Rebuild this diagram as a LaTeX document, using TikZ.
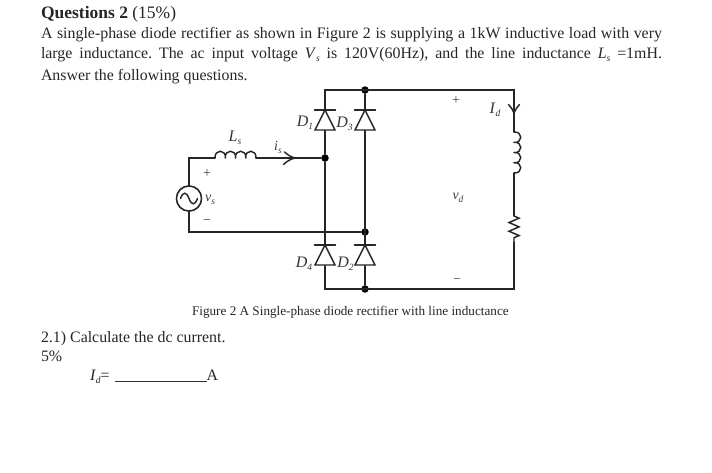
\documentclass[tikz,border=0pt]{standalone}
\usepackage{fontspec}
\setmainfont{Liberation Serif}
\usetikzlibrary{decorations.pathmorphing,arrows.meta}
\newcommand{\bodysize}{\fontsize{15.9}{17}\selectfont}
\newcommand{\sub}[2]{\textit{#1}\raisebox{-3pt}{\fontsize{9.5}{10}\selectfont\textit{#2}}}
\frenchspacing
\tikzset{
  x=1pt,y=-1pt,
  wire/.style={line width=1.45pt,draw=black!85,line cap=round},
  txt/.style={anchor=base west,inner sep=0pt,outer sep=0pt,text=black!85,font=\bodysize},
  lab/.style={anchor=center,inner sep=0pt,outer sep=0pt,text=black!80,font=\fontsize{16}{17}\selectfont},
  smalllab/.style={anchor=center,inner sep=0pt,outer sep=0pt,text=black!75,font=\fontsize{14}{15}\selectfont},
  dot/.style={circle,fill=black,draw=none,minimum size=7.5pt,inner sep=0pt},
  zigwire/.style={wire,decorate,decoration={zigzag,amplitude=5pt,segment length=8.7pt}},
  source/.style={circle,draw=black!85,line width=1.45pt,minimum size=25pt,inner sep=0pt},
  diodetri/.style={wire,line join=miter,fill=white}
}
\newcommand{\diode}[2]{% x, top (bar) y
  \draw[diodetri] (#1,#2) -- (#1-10,#2+20) -- (#1+10,#2+20) -- cycle;
  \draw[wire] (#1-10.5,#2) -- (#1+10.5,#2);
}
\begin{document}
\begin{tikzpicture}
\useasboundingbox (0,0) rectangle (712,472);
\fill[white] (0,0) rectangle (712,472);
% text
\node[txt] (title) at (41,18.5) {\fontsize{17.5}{19}\selectfont\textbf{Questions 2} (15\%)};
\node[txt] (l1) at (41,38) {\hbox to 621pt{A single-phase diode rectifier as shown in Figure 2 is supplying a 1kW inductive load with very}};
\node[txt] (l2) at (41,58) {\hbox to 621pt{large inductance. The ac input voltage \sub{V}{s} is 120V(60Hz), and the line inductance \sub{L}{s} =1mH.}};
\node[txt] (l3) at (41,80) {Answer the following questions.};
\node[txt,font=\fontsize{13.2}{15}\selectfont] (cap) at (192,315) {Figure 2 A Single-phase diode rectifier with line inductance};
\node[txt] (q) at (41,342) {2.1) Calculate the dc current.};
\node[txt] (pct) at (41,361) {5\%};
\node[txt] (ans) at (90,380) {\sub{I}{d}=};
\node[txt] (aa) at (206.5,380) {A};
\coordinate (ansA) at (115,381);
\coordinate (ansB) at (207,381);
\draw[line width=0.9pt,black!80] (ansA) -- (ansB);
% circuit coordinates
\coordinate (tl) at (325,90);
\coordinate (bl) at (325,289);
\coordinate (tr) at (514,90);
\coordinate (br) at (514,289);
\coordinate (sw) at (189,158);
\coordinate (sb) at (189,232);
\coordinate (lsa) at (215,158);
\coordinate (lsb) at (256,158);
\coordinate (lda) at (514,132);
\coordinate (ldb) at (514,173);
\coordinate (ra) at (514,216);
\coordinate (rb) at (514,242);
\node[dot] (jt) at (365,90) {};
\node[dot] (jm) at (325,158) {};
\node[dot] (jl) at (365,232) {};
\node[dot] (jb) at (365,289) {};
\node[source] (src) at (189,198.5) {};
\coordinate (arrowtip) at (295,158);
\coordinate (idtip) at (514,113);
% wires
\draw[wire] (jm) -- (tl) -- (tr) -- (lda);
\draw[wire] (jb) -- (jt);
\draw[wire] (jm) -- (bl) -- (br) -- (rb);
\draw[wire] (src) -- (sw) -- (lsa);
\draw[wire] (src) -- (sb) -- (jl);
\draw[wire] (lsb) -- (jm);
\draw[wire] (ldb) -- (ra);
% inductors, four bumps each
\draw[wire] (lsa)
  .. controls +(-0.5,-9) and +(0.5,-9) .. +(10.5,0)
  (225.2,158) .. controls +(-0.5,-9) and +(0.5,-9) .. +(10.5,0)
  (235.4,158) .. controls +(-0.5,-9) and +(0.5,-9) .. +(10.5,0)
  (245.6,158) .. controls +(-0.5,-9) and +(0.5,-9) .. (lsb);
\draw[wire] (lda)
  .. controls +(9,-0.5) and +(9,0.5) .. +(0,10.5)
  (514,142.2) .. controls +(9,-0.5) and +(9,0.5) .. +(0,10.5)
  (514,152.4) .. controls +(9,-0.5) and +(9,0.5) .. +(0,10.5)
  (514,162.6) .. controls +(9,-0.5) and +(9,0.5) .. (ldb);
\draw[zigwire] (ra) -- (rb);
% source redraw over wires
\node[source,fill=white] at (189,198.5) {};
\draw[wire] (180.5,198.5) .. controls (183,191.5) and (186.5,191.5) .. (189,198.5) .. controls (191.5,205.5) and (195,205.5) .. (197.5,198.5);
% arrow heads
\draw[wire] (284.5,152) .. controls (288,155) and (291,157) .. (arrowtip) .. controls (291,159) and (287,161) .. (283.5,164.5);
\draw[wire] (508.5,104.5) .. controls (511,107.5) and (513,110) .. (idtip) .. controls (515,110) and (517,107.5) .. (519.5,104.5);
% diodes
\diode{325}{110}
\diode{365}{110}
\diode{325}{245}
\diode{365}{245}
% labels
\node[lab] (d1) at (305,122.5) {\sub{D}{1}};
\node[lab] (d3) at (344.5,124) {\sub{D}{3}};
\node[lab] (d4) at (304,264) {\sub{D}{4}};
\node[lab] (d2) at (345.5,263.5) {\sub{D}{2}};
\node[lab] (ls) at (235,138) {\sub{L}{s}};
\node[smalllab] (is) at (278,147) {\sub{i}{s}};
\node[smalllab] (vs) at (210,200) {\sub{v}{s}};
\node[smalllab] (p1) at (207,174) {+};
\node[smalllab] (m1) at (207,222) {\textminus};
\node[smalllab] (p2) at (456,101) {+};
\node[lab] (id) at (495,110) {\sub{I}{d}};
\node[smalllab] (vd) at (458,198) {\sub{v}{d}};
\node[smalllab] (m2) at (457,281) {\textminus};
\end{tikzpicture}
\end{document}
